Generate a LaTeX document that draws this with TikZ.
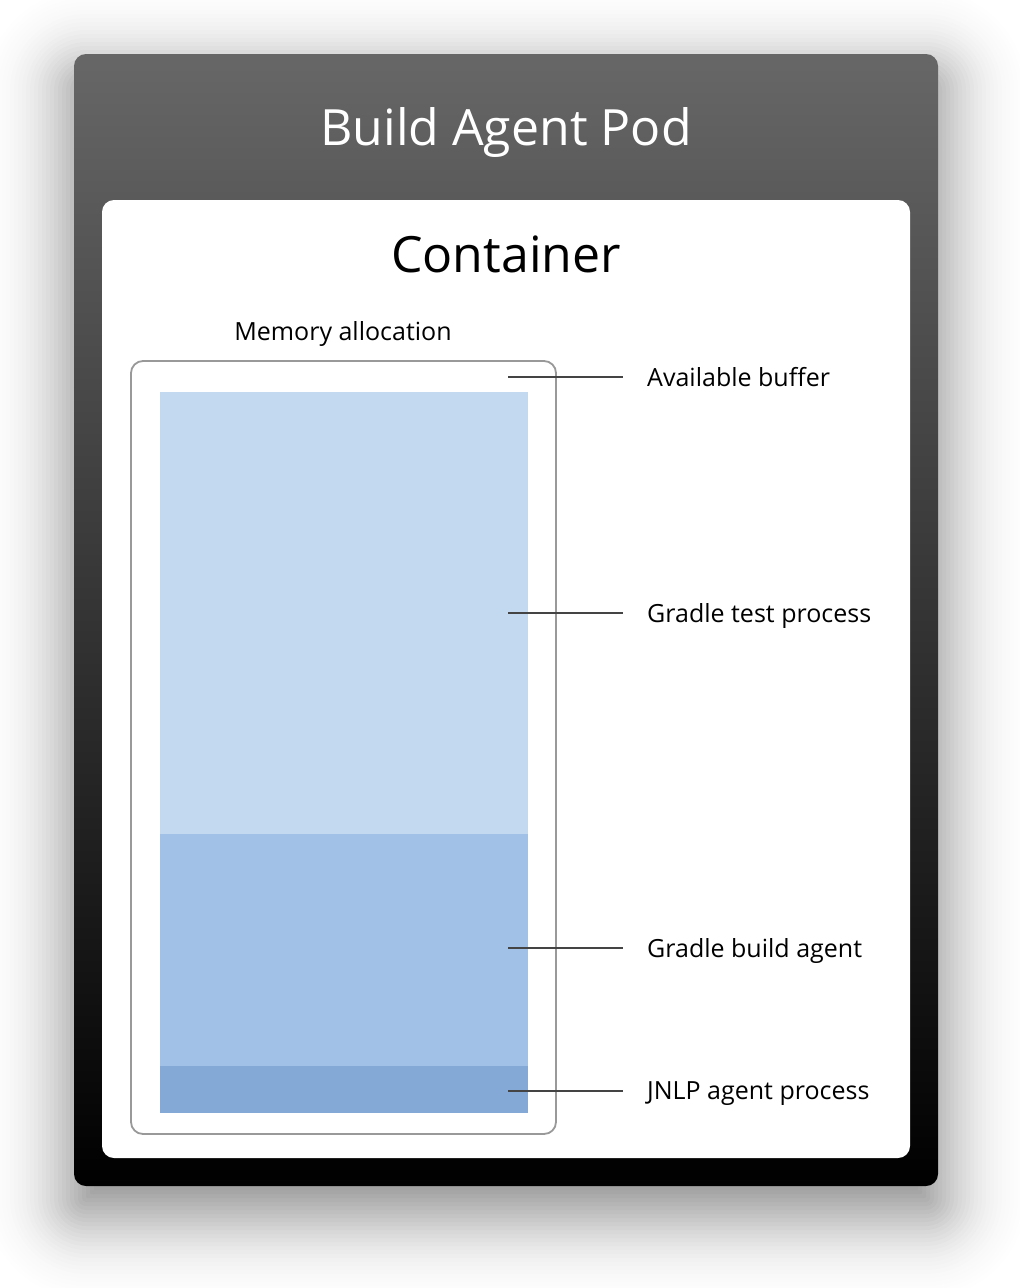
\documentclass[tikz,border=0pt]{standalone}
\usepackage{fontspec}
\setmainfont{Open Sans}
\definecolor{barA}{HTML}{C3D9F0}
\definecolor{barB}{HTML}{A2C1E7}
\definecolor{barC}{HTML}{85A9D6}
\definecolor{podtop}{HTML}{676767}
\definecolor{leader}{HTML}{444444}
\definecolor{memgray}{HTML}{999999}
\begin{document}
\begin{tikzpicture}[x=1pt,y=-1pt,
  bigtitle/.style={font=\fontsize{50}{60}\selectfont, inner sep=0pt, anchor=base},
  smalltext/.style={font=\fontsize{25}{30}\selectfont, inner sep=0pt, anchor=base},
  lbl/.style={font=\fontsize{25}{30}\selectfont, inner ysep=0pt, inner xsep=24pt, anchor=west, text depth=0pt},
  leaderline/.style={draw=leader, line width=1.6pt},
  memframe/.style={draw=memgray, line width=1.8pt, rounded corners=12pt}]
\useasboundingbox[fill=white] (0,0) rectangle (1020,1288);
% shadow
\foreach \e in {-40,-36,...,120} {
  \pgfmathsetmacro\al{0.02*exp(-(\e*\e)/3600)}
  \pgfmathsetmacro\rr{max(1,12+\e)}
  \pgfmathsetmacro\xa{74-\e}
  \pgfmathsetmacro\ya{78-\e}
  \pgfmathsetmacro\xb{938+\e}
  \pgfmathsetmacro\yb{1210+\e}
  \fill[black, opacity=\al, rounded corners=\rr pt] (\xa,\ya) rectangle (\xb,\yb);
}
% pod
\shade[top color=podtop, bottom color=black, rounded corners=12pt] (74,54) rectangle (938,1186);
\node[bigtitle, text=white] (podtitle) at (506,145) {Build Agent Pod};
% container
\fill[white, rounded corners=12pt] (102,200) rectangle (910,1158);
\node[bigtitle] (ctitle) at (506,272) {Container};
\node[smalltext] (memtitle) at (343,340) {Memory allocation};
% memory frame and bars
\fill[barA] (160,392) rectangle (528,834);
\fill[barB] (160,834) rectangle (528,1066);
\fill[barC] (160,1066) rectangle (528,1113);
\draw[memframe] (131,361) rectangle (556,1134);
% leader starts
\coordinate (s1) at (508,377);
\coordinate (s2) at (508,613);
\coordinate (s3) at (508,948);
\coordinate (s4) at (508,1091);
% labels
\node[lbl] (l1) at (623,377) {Available buffer};
\node[lbl] (l2) at (623,613) {Gradle test process};
\node[lbl] (l3) at (623,948) {Gradle build agent};
\node[lbl] (l4) at (623,1091) {JNLP agent process};
\draw[leaderline] (s1) -- (s1 -| l1.west);
\draw[leaderline] (s2) -- (s2 -| l2.west);
\draw[leaderline] (s3) -- (s3 -| l3.west);
\draw[leaderline] (s4) -- (s4 -| l4.west);
\end{tikzpicture}
\end{document}
